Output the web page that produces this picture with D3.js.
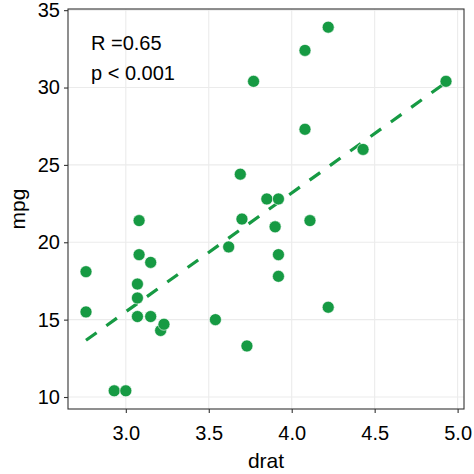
<!DOCTYPE html>
<html><head><meta charset="utf-8">
<script src="https://cdn.jsdelivr.net/npm/d3@7"></script>
<style>body{margin:0;background:#fff}svg{display:block;font-family:"Liberation Sans",Arial,sans-serif}</style>
</head><body>
<script>
const drat = [3.90,3.90,3.85,3.08,3.15,2.76,3.21,3.69,3.92,3.92,3.92,3.07,3.07,3.07,2.93,3.00,3.23,4.08,4.93,4.22,3.70,2.76,3.15,3.73,3.08,4.08,4.43,3.77,4.22,3.62,3.54,4.11];
const mpg = [21.0,21.0,22.8,21.4,18.7,18.1,14.3,24.4,22.8,19.2,17.8,16.4,17.3,15.2,10.4,10.4,14.7,32.4,30.4,33.9,21.5,15.5,15.2,13.3,19.2,27.3,26.0,30.4,15.8,19.7,15.0,21.4];
const xTicks = [3.0,3.5,4.0,4.5,5.0];
const yTicks = [10,15,20,25,30,35];
const annot = ["R =0.65","p < 0.001"];
const fitIntercept = -7.525, fitSlope = 7.678;

const W=474,H=474, L=68,R=464,T=9,B=409;
const col="#169a43";
const svg=d3.select("body").append("svg").attr("width",W).attr("height",H);
const xr=d3.extent(drat), yr=d3.extent(mpg);
const xe=(xr[1]-xr[0])*0.05, ye=(yr[1]-yr[0])*0.05;
const x=d3.scaleLinear().domain([xr[0]-xe,xr[1]+xe]).range([L,R]);
const y=d3.scaleLinear().domain([yr[0]-ye,yr[1]+ye]).range([B,T]);

const g=svg.append("g");
g.selectAll(".gx").data(xTicks).join("line").attr("x1",d=>x(d)).attr("x2",d=>x(d)).attr("y1",T).attr("y2",B).attr("stroke","#ebebeb").attr("stroke-width",1.1);
g.selectAll(".gy").data(yTicks).join("line").attr("y1",d=>y(d)).attr("y2",d=>y(d)).attr("x1",L).attr("x2",R).attr("stroke","#ebebeb").attr("stroke-width",1.1);

// fit line
const fx=d3.extent(drat);
svg.append("line").attr("x1",x(fx[0])).attr("y1",y(fitIntercept+fitSlope*fx[0]))
  .attr("x2",x(fx[1])).attr("y2",y(fitIntercept+fitSlope*fx[1]))
  .attr("stroke",col).attr("stroke-width",3.2).attr("stroke-dasharray","13,12");

svg.selectAll("circle").data(drat.map((d,i)=>[d,mpg[i]])).join("circle")
  .attr("cx",d=>x(d[0])).attr("cy",d=>y(d[1])).attr("r",6)
  .attr("fill",col).attr("stroke","#fff").attr("stroke-width",0.6);

svg.append("rect").attr("x",L).attr("y",T).attr("width",R-L).attr("height",B-T).attr("fill","none").attr("stroke","#333").attr("stroke-width",1.1);

const xa=svg.append("g").attr("transform",`translate(0,${B})`).call(d3.axisBottom(x).tickValues(xTicks).tickFormat(d3.format(".1f")).tickSize(4).tickPadding(13));
const ya=svg.append("g").attr("transform",`translate(${L},0)`).call(d3.axisLeft(y).tickValues(yTicks).tickSize(4).tickPadding(4));
[xa,ya].forEach(a=>{a.select(".domain").remove();a.selectAll("line").attr("stroke","#333").attr("stroke-width",1.1);
  a.selectAll("text").attr("fill","#000").style("font-size","20px").style("font-family","Liberation Sans, Arial, sans-serif");});

svg.append("text").attr("x",(L+R)/2).attr("y",468).attr("text-anchor","middle").style("font-size","21px").text("drat");
svg.append("text").attr("transform",`translate(25,${(T+B)/2}) rotate(-90)`).attr("text-anchor","middle").style("font-size","21px").text("mpg");
svg.selectAll(".an").data(annot).join("text").attr("x",91).attr("y",(d,i)=>50+i*30).style("font-size","20px").text(d=>d);
</script>
</body></html>
